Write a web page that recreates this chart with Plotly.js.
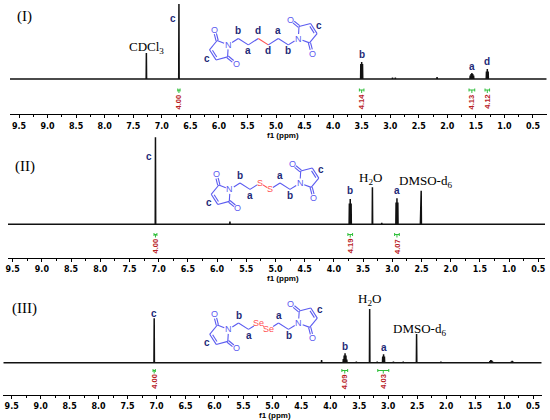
<!DOCTYPE html>
<html><head><meta charset="utf-8">
<script src="https://cdn.plot.ly/plotly-3.0.1.min.js"></script>
<style>html,body{margin:0;padding:0;background:#fff}#chart{width:550px;height:420px}</style>
</head><body><div id="chart"></div>
<script>
// ---------------- DATA ----------------
// Panel (I): peak positions (ppm) and relative intensities
const ppmI = [7.27, 6.70, 3.515, 3.50, 3.485, 2.96, 2.91, 2.18, 1.60, 1.585, 1.57, 1.555, 1.54, 1.315, 1.30, 1.285];
const intI = [34.7, 100, 20, 22.7, 20, 2, 2, 2.7, 4.5, 6.5, 8, 6.5, 4.5, 10, 13.3, 10];
// Panel (II)
const ppmII = [7.055, 5.78, 3.735, 3.72, 3.705, 3.34, 3.18, 2.935, 2.92, 2.905, 2.515, 2.505];
const intII = [100, 3, 24, 29, 24, 42.5, 1.5, 25, 30, 25, 36, 38.6];
// Panel (III)
const ppmIII = [7.72, 7.04, 4.15, 3.775, 3.76, 3.745, 3.73, 3.715, 3.55, 3.32, 3.19, 3.095, 3.08, 3.065, 2.91, 2.74, 2.51, 2.09, 1.245, 1.23, 1.215, 1.20, 0.875, 0.86, 0.845];
const intIII = [1.5, 100, 6, 8, 16, 21, 16, 7, 2, 121, 2.5, 14, 19, 14, 2, 2, 64.6, 2, 3.5, 6, 5.5, 3, 2.5, 4, 2.5];

// Integrals: ranges (ppm) and values
const integFromI = [6.72, 3.54, 1.62, 1.34];
const integToI   = [6.68, 3.46, 1.52, 1.26];
const integValI  = ['4.00', '4.14', '4.13', '4.12'];
const integFromII = [7.08, 3.76, 2.96];
const integToII   = [7.03, 3.68, 2.88];
const integValII  = ['4.00', '4.19', '4.07'];
const integFromIII = [7.06, 3.80, 3.18];
const integToIII   = [7.02, 3.70, 2.99];
const integValIII  = ['4.00', '4.09', '4.03'];

// Peak assignment labels
const peakTextI = ['c', 'b', 'a', 'd'];
const peakPpmI  = [6.81, 3.50, 1.57, 1.30];
const peakTextII = ['c', 'b', 'a'];
const peakPpmII  = [7.17, 3.72, 2.92];
const peakTextIII = ['c', 'b', 'a'];
const peakPpmIII  = [7.04, 3.74, 3.08];

// Solvent labels
const solventI = ['CDCl<sub>3</sub>'];
const solventII = ['H<sub>2</sub>O', 'DMSO-d<sub>6</sub>'];
const solventIII = ['H<sub>2</sub>O', 'DMSO-d<sub>6</sub>'];
const panelNames = ['(I)', '(II)', '(III)'];
const tickStep = 0.5;

// ---------------- LAYOUT HELPERS ----------------
const W = 550, H = 420;
const X = px => px / W;
const Y = py => 1 - py / H;
const BLUE = '#5b5bf0', NAVY = '#1e2a78', RED = '#ff5050';
const SANS = 'Liberation Sans, Arial, sans-serif';
const SERIF = 'Liberation Serif, Times New Roman, serif';
const shapes = [], annotations = [];

// panel geometry in pixels: axis span, plot top, axis line, baseline, px per 100 units
const panels = [
  {px0: 10, px1: 546.7, r0: 9.658, r1: 0.260, top: 2, axis: 114, base: 79, s100: 75, so: 1},
  {px0: 8, px1: 545, r0: 9.580, r1: 0.385, top: 134, axis: 258.3, base: 224.3, s100: 87, so: 0},
  {px0: 3.3, px1: 541.7, r0: 9.645, r1: 0.350, top: 280, axis: 395, base: 362.7, s100: 44.4, so: 0}
];

function buildLine(ppm, inten, xmax, xmin) {
  const order = ppm.map((p, i) => i).sort((a, b) => ppm[b] - ppm[a]);
  const xs = [xmax], ys = [0];
  const w = 0.004;
  for (const i of order) { xs.push(ppm[i] + w, ppm[i], ppm[i] - w); ys.push(0, inten[i], 0); }
  xs.push(xmin); ys.push(0);
  return {xs, ys};
}

const spectra = [[ppmI, intI], [ppmII, intII], [ppmIII, intIII]];
const traces = [];
const layout = {
  width: W, height: H, margin: {l: 0, r: 0, t: 0, b: 0},
  paper_bgcolor: '#fff', plot_bgcolor: 'rgba(0,0,0,0)', showlegend: false,
  shapes, annotations
};

panels.forEach((p, i) => {
  const n = i === 0 ? '' : String(i + 1);
  const upp = 100 / p.s100;
  const line = buildLine(spectra[i][0], spectra[i][1], p.r0, p.r1);
  traces.push({type: 'scatter', mode: 'lines', x: line.xs, y: line.ys,
    xaxis: 'x' + n, yaxis: 'y' + n, line: {color: '#111', width: 1.5}, hoverinfo: 'skip'});
  layout['xaxis' + n] = {
    domain: [X(p.px0), X(p.px1)], anchor: 'y' + n, range: [p.r0, p.r1], autorange: false,
    showline: true, linecolor: '#000', linewidth: 1, showgrid: false, zeroline: false,
    ticks: 'outside', ticklen: 3, tickwidth: 1, tickcolor: '#000', tick0: 0, dtick: tickStep,
    tickformat: '.1f', ticklabelstandoff: p.so,
    tickfont: {family: 'DejaVu Sans, sans-serif', size: 8, color: '#000', weight: 'bold'},
    minor: {dtick: 0.25, ticks: 'outside', ticklen: 2, tickcolor: '#000', showgrid: false}
  };
  layout['yaxis' + n] = {
    domain: [Y(p.axis), Y(p.top)], anchor: 'x' + n, visible: false,
    range: [(p.base - p.axis) * upp, (p.base - p.top) * upp], autorange: false
  };
});

// f1 (ppm) labels
[[283, 135.5], [283, 278.5], [275, 415.5]].forEach(([x, y]) => annotations.push({
  xref: 'paper', yref: 'paper', x: X(x), y: Y(y), text: 'f1 (ppm)', showarrow: false,
  font: {family: SANS, size: 8, color: '#000', weight: 'bold'}, xanchor: 'center', yanchor: 'middle'}));

// panel names
[[24, 17], [25, 166.5], [24.7, 308.3]].forEach(([x, y], i) => annotations.push({
  xref: 'paper', yref: 'paper', x: X(x), y: Y(y), text: panelNames[i], showarrow: false,
  font: {family: SERIF, size: 15, color: '#000'}, xanchor: 'center', yanchor: 'middle'}));

// peak labels
const peakSets = [[peakTextI, peakPpmI, [18.3, 55, 66.7, 61.7]],
                  [peakTextII, peakPpmII, [156.7, 191, 190.7]],
                  [peakTextIII, peakPpmIII, [313.3, 346.7, 347.7]]];
peakSets.forEach(([txt, ppm, ys], i) => {
  const n = i === 0 ? '' : String(i + 1);
  txt.forEach((t, j) => annotations.push({xref: 'x' + n, yref: 'paper', x: ppm[j], y: Y(ys[j]),
    text: t, showarrow: false, font: {family: SANS, size: 10, color: NAVY, weight: 'bold'},
    xanchor: 'center', yanchor: 'middle'}));
});

// solvent labels
const solvPos = [[[146.7, 47.5]], [[370, 178.5], [425, 181.5]], [[369, 299.5], [419, 329.5]]];
[solventI, solventII, solventIII].forEach((arr, i) => arr.forEach((t, j) => annotations.push({
  xref: 'paper', yref: 'paper', x: X(solvPos[i][j][0]), y: Y(solvPos[i][j][1]), text: t, showarrow: false,
  font: {family: SERIF, size: 13, color: '#000'}, xanchor: 'center', yanchor: 'middle'})));

// integrals
const integSets = [[integFromI, integToI, integValI], [integFromII, integToII, integValII],
                   [integFromIII, integToIII, integValIII]];
const integY = [[90, 101.5], [234.5, 246], [370.5, 381.5]];
integSets.forEach(([fr, to, val], i) => {
  const n = i === 0 ? '' : String(i + 1);
  const [yb, yt] = integY[i];
  const G = '#2fbf3a';
  fr.forEach((f, j) => {
    const t = to[j], m = (f + t) / 2;
    shapes.push({type: 'line', xref: 'x' + n, yref: 'paper', x0: f, x1: t, y0: Y(yb), y1: Y(yb), line: {color: G, width: 1}});
    shapes.push({type: 'line', xref: 'x' + n, yref: 'paper', x0: f, x1: f, y0: Y(yb - 1.5), y1: Y(yb + 1.5), line: {color: G, width: 1}});
    shapes.push({type: 'line', xref: 'x' + n, yref: 'paper', x0: t, x1: t, y0: Y(yb - 1.5), y1: Y(yb + 1.5), line: {color: G, width: 1}});
    shapes.push({type: 'line', xref: 'x' + n, yref: 'paper', x0: m, x1: m, y0: Y(yb), y1: Y(yb + 3), line: {color: G, width: 1}});
    annotations.push({xref: 'x' + n, yref: 'paper', x: m, y: Y(yt), text: val[j], textangle: -90,
      showarrow: false, font: {family: SANS, size: 7.5, color: '#b8201e', weight: 'bold'},
      xanchor: 'center', yanchor: 'middle'});
  });
});

// ---------------- CHEMICAL STRUCTURES ----------------
function seg(a, b, color, s1, s2, off) {
  let dx = b[0] - a[0], dy = b[1] - a[1];
  const L = Math.hypot(dx, dy); const ux = dx / L, uy = dy / L;
  const ox = off ? -uy * off : 0, oy = off ? ux * off : 0;
  const p = [a[0] + ux * s1 + ox, a[1] + uy * s1 + oy], q = [b[0] - ux * s2 + ox, b[1] - uy * s2 + oy];
  shapes.push({type: 'line', xref: 'paper', yref: 'paper', x0: X(p[0]), y0: Y(p[1]), x1: X(q[0]), y1: Y(q[1]),
    line: {color, width: 1.1}});
}
function txt(x, y, t, color, size, bold) {
  annotations.push({xref: 'paper', yref: 'paper', x: X(x), y: Y(y), text: t, showarrow: false,
    font: {family: SANS, size, color, weight: bold ? 'bold' : 'normal'}, xanchor: 'center', yanchor: 'middle'});
}
function ring(N, toward) {
  const L0 = Math.hypot(toward[0] - N[0], toward[1] - N[1]);
  const u = [(toward[0] - N[0]) / L0, (toward[1] - N[1]) / L0];
  const side = 12, R = side / (2 * Math.sin(Math.PI / 5));
  const c = [N[0] - R * u[0], N[1] - R * u[1]];
  const th0 = Math.atan2(u[1], u[0]);
  const V = [];
  for (let j = 0; j < 5; j++) { const a = th0 + j * 2 * Math.PI / 5; V.push([c[0] + R * Math.cos(a), c[1] + R * Math.sin(a)]); }
  // V[0]=N, V[1]=C5 (C=O), V[2]=C4, V[3]=C3, V[4]=C2 (C=O)
  seg(V[0], V[1], BLUE, 4.5, 0); seg(V[1], V[2], BLUE, 0, 0); seg(V[2], V[3], BLUE, 0, 0);
  seg(V[3], V[4], BLUE, 0, 0); seg(V[4], V[0], BLUE, 0, 4.5);
  // inner double bond C4=C3
  const mid = [(V[2][0] + V[3][0]) / 2, (V[2][1] + V[3][1]) / 2];
  const inw = [(c[0] - mid[0]), (c[1] - mid[1])]; const il = Math.hypot(inw[0], inw[1]);
  const sh = [inw[0] / il * 2.2, inw[1] / il * 2.2];
  const a2 = [V[2][0] + sh[0], V[2][1] + sh[1]], a3 = [V[3][0] + sh[0], V[3][1] + sh[1]];
  seg(a2, a3, BLUE, 2, 2);
  // carbonyls
  [1, 4].forEach(j => {
    const d = [V[j][0] - c[0], V[j][1] - c[1]]; const dl = Math.hypot(d[0], d[1]);
    const O = [V[j][0] + d[0] / dl * 11, V[j][1] + d[1] / dl * 11];
    seg(V[j], O, BLUE, 0, 4, 1.1); seg(V[j], O, BLUE, 0, 4, -1.1);
    txt(O[0], O[1], 'O', BLUE, 9, false);
  });
  txt(N[0], N[1], 'N', BLUE, 9, false);
  const out = [mid[0] - inw[0] / il * 6.5, mid[1] - inw[1] / il * 6.5];
  txt(out[0], out[1], 'c', NAVY, 10, true);
}
function molecule(cx, cy, type) {
  const dx = 10, h = 3.2, P = [];
  for (let k = 0; k < 8; k++) P.push([cx + (k - 3.5) * dx, cy + (k % 2 === 0 ? h : -h)]);
  const het = type !== 'C';
  const hs = type === 'Se' ? 5.5 : 3.5;
  const shr = k => (k === 0 || k === 7) ? 4.5 : (het && (k === 3 || k === 4) ? hs : 0);
  for (let k = 0; k < 7; k++) {
    const col = (k === 3) ? RED : BLUE;
    seg(P[k], P[k + 1], col, shr(k), shr(k + 1));
  }
  ring(P[0], P[1]);
  ring(P[7], P[6]);
  txt(P[1][0], P[1][1] - 7.5, 'b', NAVY, 10, true);
  txt(P[2][0], P[2][1] + 6, 'a', NAVY, 10, true);
  txt(P[5][0], P[5][1] - 7.5, 'a', NAVY, 10, true);
  txt(P[6][0], P[6][1] + 6, 'b', NAVY, 10, true);
  if (type === 'C') {
    txt(P[3][0], P[3][1] - 7.5, 'd', NAVY, 10, true);
    txt(P[4][0], P[4][1] + 6, 'd', NAVY, 10, true);
  } else {
    txt(P[3][0], P[3][1], type, RED, 9, false);
    txt(P[4][0], P[4][1], type, RED, 9, false);
  }
}
molecule(263.3, 41.7, 'C');
molecule(265, 186.2, 'S');
molecule(263.5, 326.2, 'Se');

Plotly.newPlot('chart', traces, layout, {staticPlot: true, displayModeBar: false});
</script></body></html>
